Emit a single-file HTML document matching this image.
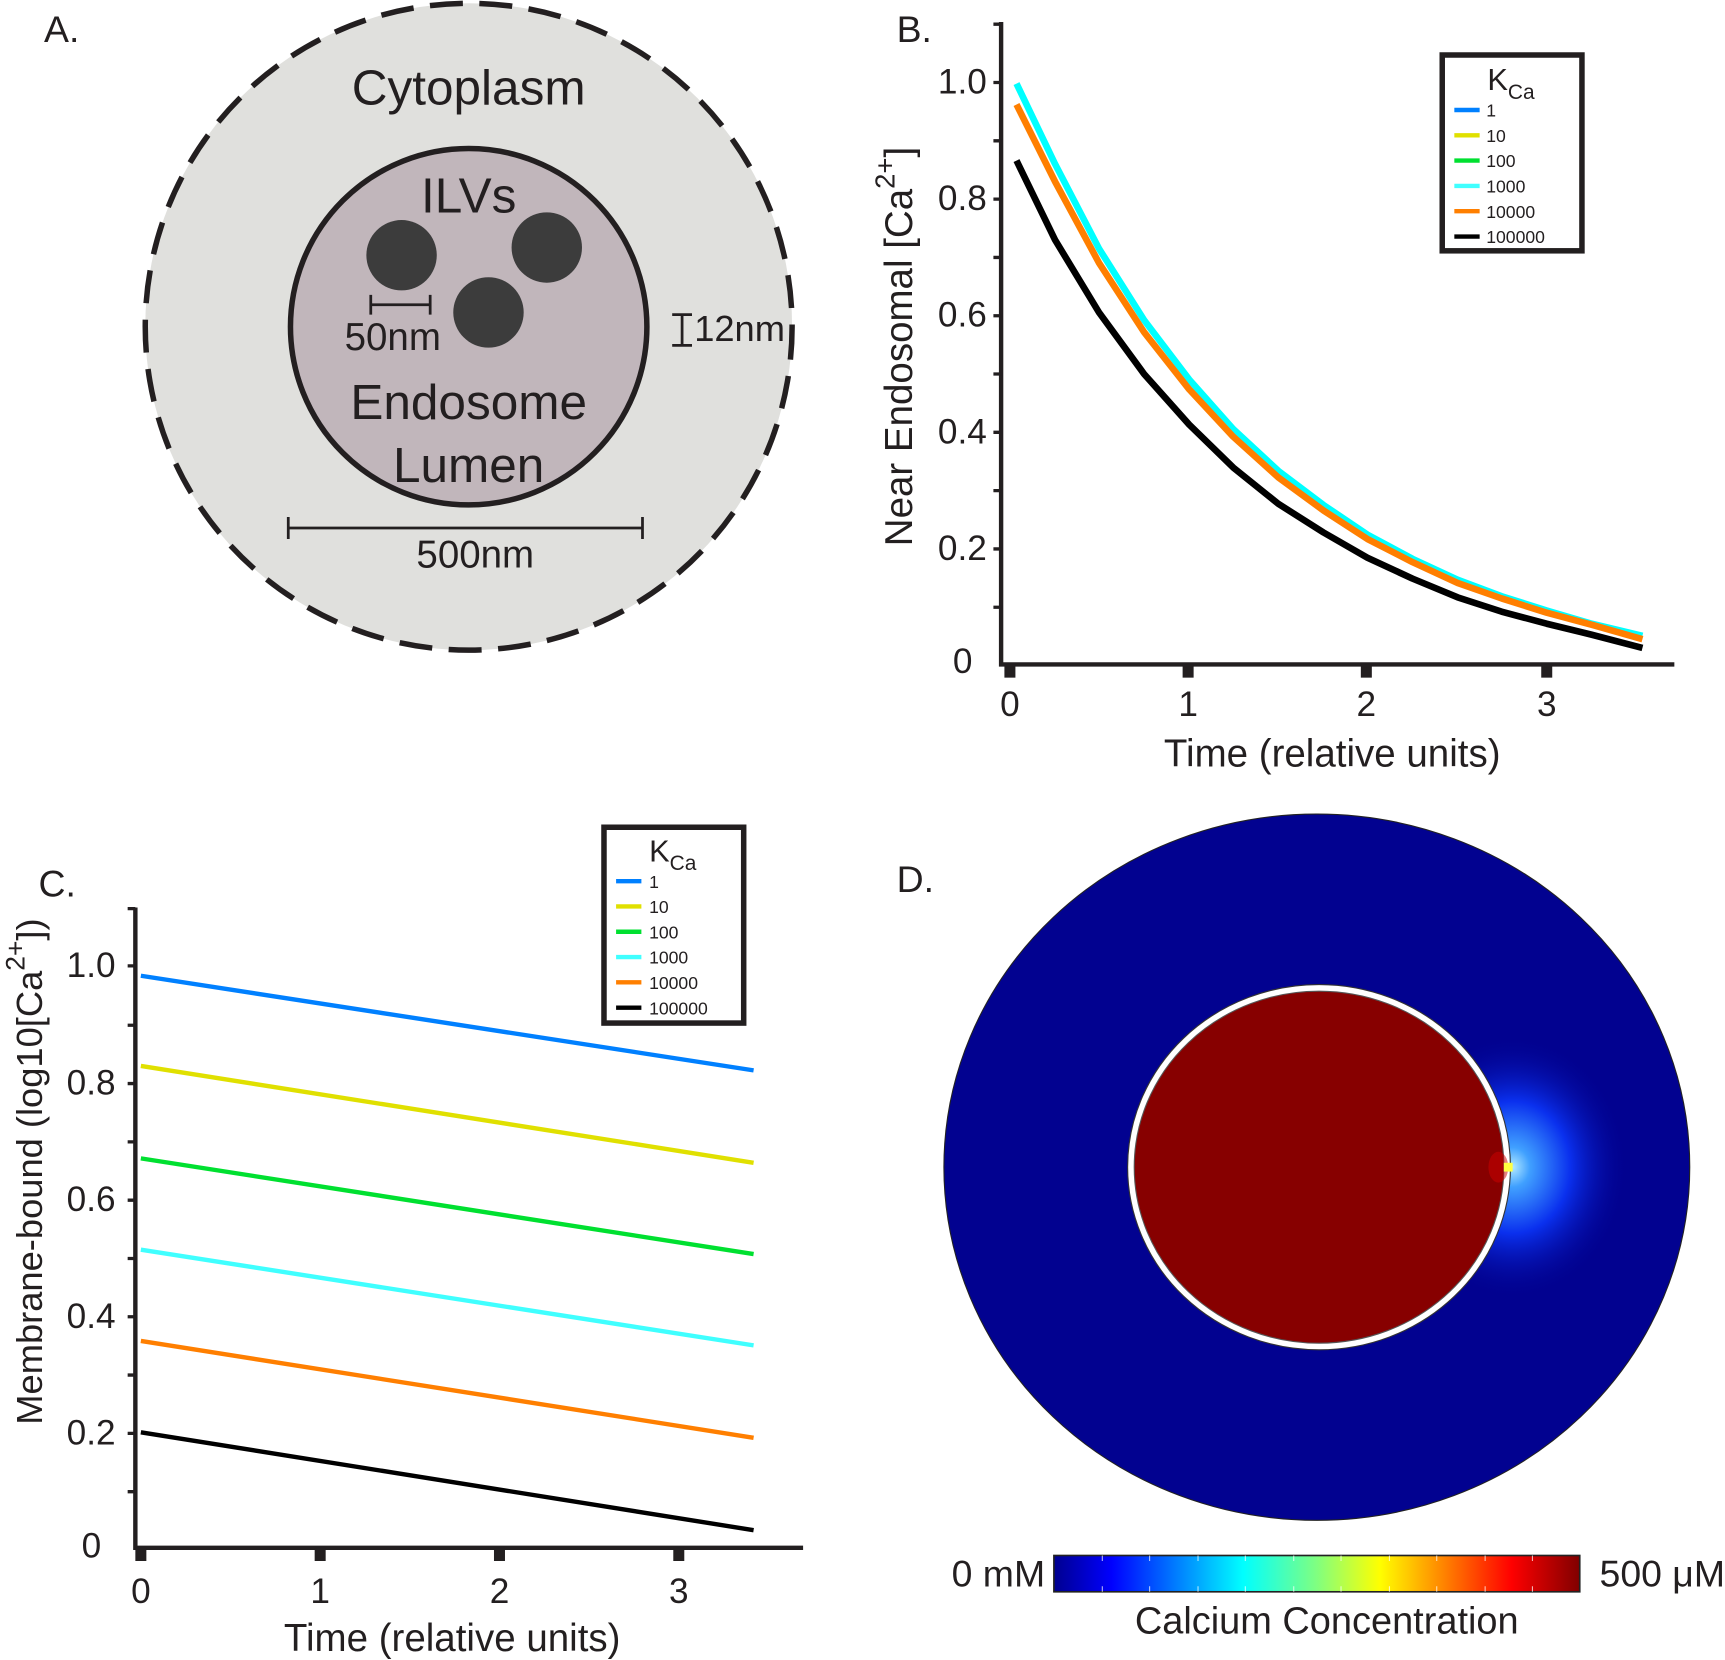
<!DOCTYPE html>
<html><head><meta charset="utf-8"><style>html,body{margin:0;padding:0;background:#fff}svg{display:block}text{font-family:"Liberation Sans",Arial,sans-serif;fill:#231f20}</style></head><body>
<svg width="1725" height="1660" viewBox="0 0 1568 1509" xmlns="http://www.w3.org/2000/svg">
<defs>
<linearGradient id="jet" x1="0" x2="1" y1="0" y2="0">
<stop offset="0" stop-color="#00008f"/><stop offset="0.11" stop-color="#0000ff"/><stop offset="0.36" stop-color="#00ffff"/><stop offset="0.5" stop-color="#80ff80"/><stop offset="0.62" stop-color="#ffff00"/><stop offset="0.87" stop-color="#ff0000"/><stop offset="1" stop-color="#800000"/>
</linearGradient>
<radialGradient id="glow" cx="0.5" cy="0.5" r="0.5">
<stop offset="0" stop-color="#b0e8ff"/><stop offset="0.15" stop-color="#40a0ff"/><stop offset="0.5" stop-color="#0a30ee"/><stop offset="1" stop-color="#020290" stop-opacity="0"/>
</radialGradient>
<clipPath id="ell"><ellipse cx="1197" cy="1061" rx="339" ry="321"/></clipPath>
</defs>
<rect width="1568" height="1509" fill="#fff"/>
<!-- Panel A -->
<text x="40" y="38" font-size="34">A.</text>
<circle cx="426" cy="297" r="294" fill="#e0e0dd" stroke="#231f20" stroke-width="5" stroke-dasharray="30,15"/>
<circle cx="426" cy="297" r="162" fill="#c1b6bb" stroke="#231f20" stroke-width="5"/>
<circle cx="365" cy="232" r="32" fill="#3c3c3c"/>
<circle cx="497" cy="225" r="32" fill="#3c3c3c"/>
<circle cx="444" cy="284" r="32" fill="#3c3c3c"/>
<text x="426" y="95" font-size="45" text-anchor="middle">Cytoplasm</text>
<text x="426" y="193" font-size="45" text-anchor="middle">ILVs</text>
<text x="426" y="381" font-size="45" text-anchor="middle">Endosome</text>
<text x="426" y="438" font-size="45" text-anchor="middle">Lumen</text>
<text x="357" y="318" font-size="35" text-anchor="middle">50nm</text>
<path d="M337 268V286M391 268V286M337 277H391" stroke="#231f20" stroke-width="2.5" fill="none"/>
<path d="M611 286H629M611 314H629M620 286V314" stroke="#231f20" stroke-width="2.5"/>
<text x="631" y="310" font-size="33">12nm</text>
<path d="M262 470V490M584 470V490M262 480H584" stroke="#231f20" stroke-width="2.5"/>
<text x="432" y="516" font-size="35" text-anchor="middle">500nm</text>
<!-- Panel B -->
<text x="815" y="38" font-size="34">B.</text>
<path d="M910 20V604H1522" stroke="#231f20" stroke-width="4" fill="none"/>
<g stroke="#231f20" stroke-width="3">
<path d="M903 75H910M903 128H910M903 181H910M903 234H910M903 287H910M903 340H910M903 393H910M903 446H910M903 499H910M903 552H910M903 22H910"/>
</g>
<g fill="#231f20"><rect x="913" y="604" width="10" height="12"/><rect x="1075" y="604" width="10" height="12"/><rect x="1237" y="604" width="10" height="12"/><rect x="1401" y="604" width="10" height="12"/></g>
<g font-size="32" text-anchor="end"><text x="897" y="85">1.0</text><text x="897" y="191">0.8</text><text x="897" y="297">0.6</text><text x="897" y="403">0.4</text><text x="897" y="509">0.2</text><text x="884" y="612">0</text></g>
<g font-size="32" text-anchor="middle"><text x="918" y="651">0</text><text x="1080" y="651">1</text><text x="1242" y="651">2</text><text x="1406" y="651">3</text></g>
<text x="1211" y="697" font-size="35" text-anchor="middle">Time (relative units)</text>
<text transform="translate(829,315) rotate(-90)" font-size="35" text-anchor="middle">Near Endosomal [Ca<tspan dy="-16" font-size="25">2+</tspan><tspan dy="16">]</tspan></text>
<g fill="none" stroke-width="6" stroke-linejoin="round">
<polyline stroke="#00ffff" points="924,76 959,149 999,226 1040,291 1081,345 1121,390 1162,428 1203,459 1243,486 1284,508 1325,527 1365,542 1406,555 1447,567 1493,578"/>
<polyline stroke="#ff7f00" points="924,95 959,165 999,239 1040,302 1081,354 1121,397 1162,434 1203,464 1243,490 1284,511 1325,530 1365,544 1406,557 1447,568 1493,581"/>
<polyline stroke="#000" points="924,146 959,218 999,284 1040,340 1081,386 1121,425 1162,458 1203,484 1243,507 1284,526 1325,543 1365,556 1406,567 1447,577 1493,589"/>
</g>
<rect x="1311" y="50" width="127" height="178" fill="#fff" stroke="#231f20" stroke-width="5"/>
<text x="1352" y="82" font-size="28">K<tspan dy="8" font-size="19">Ca</tspan></text>
<g stroke-width="4"><path stroke="#0080ff" d="M1322 100H1345"/><path stroke="#e0e000" d="M1322 123H1345"/><path stroke="#00e030" d="M1322 146H1345"/><path stroke="#40ffff" d="M1322 169H1345"/><path stroke="#ff7f00" d="M1322 192H1345"/><path stroke="#000" d="M1322 215H1345"/></g>
<g font-size="16"><text x="1351" y="106">1</text><text x="1351" y="129">10</text><text x="1351" y="152">100</text><text x="1351" y="175">1000</text><text x="1351" y="198">10000</text><text x="1351" y="221">100000</text></g>
<!-- Panel C -->
<text x="35" y="815" font-size="34">C.</text>
<path d="M123 825V1407H730" stroke="#231f20" stroke-width="4" fill="none"/>
<g stroke="#231f20" stroke-width="3"><path d="M116 878H123M116 932H123M116 985H123M116 1038H123M116 1091H123M116 1144H123M116 1197H123M116 1250H123M116 1303H123M116 1356H123M116 826H123"/></g>
<g fill="#231f20"><rect x="123" y="1407" width="10" height="12"/><rect x="286" y="1407" width="10" height="12"/><rect x="449" y="1407" width="10" height="12"/><rect x="612" y="1407" width="10" height="12"/></g>
<g font-size="32" text-anchor="end"><text x="105" y="888">1.0</text><text x="105" y="995">0.8</text><text x="105" y="1101">0.6</text><text x="105" y="1207">0.4</text><text x="105" y="1313">0.2</text><text x="92" y="1416">0</text></g>
<g font-size="32" text-anchor="middle"><text x="128" y="1457">0</text><text x="291" y="1457">1</text><text x="454" y="1457">2</text><text x="617" y="1457">3</text></g>
<text x="411" y="1501" font-size="35" text-anchor="middle">Time (relative units)</text>
<text transform="translate(38,1065) rotate(-90)" font-size="33" text-anchor="middle">Membrane-bound  (log10[Ca<tspan dy="-16" font-size="24">2+</tspan><tspan dy="16">])</tspan></text>
<g stroke-width="4"><path stroke="#0080ff" d="M128 887L685 973"/><path stroke="#e0e000" d="M128 969L685 1057"/><path stroke="#00e030" d="M128 1053L685 1140"/><path stroke="#40ffff" d="M128 1136L685 1223"/><path stroke="#ff7f00" d="M128 1219L685 1307"/><path stroke="#000" d="M128 1302L685 1391"/></g>
<rect x="549" y="752" width="127" height="178" fill="#fff" stroke="#231f20" stroke-width="5"/>
<text x="590" y="783" font-size="28">K<tspan dy="8" font-size="19">Ca</tspan></text>
<g stroke-width="4"><path stroke="#0080ff" d="M560 801H583"/><path stroke="#e0e000" d="M560 824H583"/><path stroke="#00e030" d="M560 847H583"/><path stroke="#40ffff" d="M560 870H583"/><path stroke="#ff7f00" d="M560 893H583"/><path stroke="#000" d="M560 916H583"/></g>
<g font-size="16"><text x="590" y="807">1</text><text x="590" y="830">10</text><text x="590" y="853">100</text><text x="590" y="876">1000</text><text x="590" y="899">10000</text><text x="590" y="922">100000</text></g>
<!-- Panel D -->
<text x="815" y="811" font-size="34">D.</text>
<ellipse cx="1197" cy="1061" rx="339" ry="321" fill="#020290" stroke="#222" stroke-width="1"/>
<g clip-path="url(#ell)"><ellipse cx="1375" cy="1061" rx="105" ry="120" fill="url(#glow)"/></g>
<ellipse cx="1199" cy="1061" rx="174" ry="166" fill="#fff" stroke="#333" stroke-width="1"/>
<ellipse cx="1199" cy="1061" rx="168" ry="160" fill="#870000" stroke="#555" stroke-width="1"/>
<ellipse cx="1362" cy="1061" rx="9" ry="14" fill="#d00000" opacity="0.5"/>
<rect x="1367" y="1057" width="8" height="8" fill="#ffff40"/>
<rect x="958" y="1414" width="478" height="33" fill="url(#jet)" stroke="#222" stroke-width="1.5"/>
<g stroke="#fff" stroke-width="1" opacity="0.7"><path d="M1002 1414v5M1045 1414v5M1089 1414v5M1132 1414v5M1176 1414v5M1219 1414v5M1263 1414v5M1306 1414v5M1350 1414v5M1393 1414v5M1002 1447v-5M1045 1447v-5M1089 1447v-5M1132 1447v-5M1176 1447v-5M1219 1447v-5M1263 1447v-5M1306 1447v-5M1350 1447v-5M1393 1447v-5"/></g>
<text x="950" y="1442" font-size="34" text-anchor="end">0 mM</text>
<text x="1454" y="1442" font-size="34">500 μM</text>
<text x="1206" y="1485" font-size="34.5" text-anchor="middle">Calcium Concentration</text>
</svg>
</body></html>
